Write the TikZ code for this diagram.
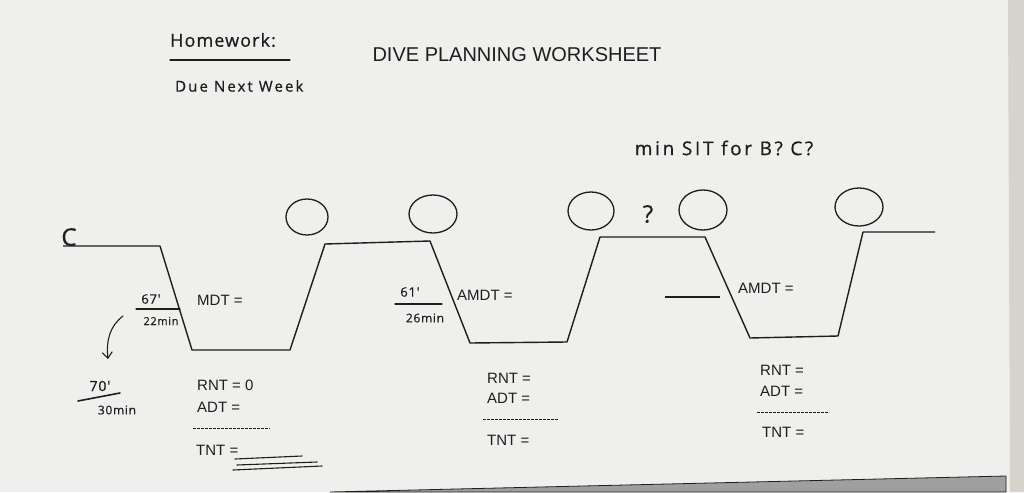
\documentclass[tikz,border=0pt]{standalone}
\usepackage{fontspec}
\setmainfont{Liberation Sans}
\newfontfamily\hand[LetterSpace=6.0,FakeBold=0.6]{Open Sans}
\newfontfamily\handw[LetterSpace=14.0,FakeBold=0.6]{Open Sans}
\usetikzlibrary{arrows.meta}
\definecolor{paper}{HTML}{EFEFEE}
\definecolor{ink}{HTML}{1E1E1E}
\definecolor{edge}{HTML}{D6D3CD}
\tikzset{
  prof/.style={draw=ink, line width=1.4pt, line join=round},
  pen/.style={draw=ink, line width=1.3pt, line cap=round},
  bub/.style={draw=ink, line width=1.3pt},
  lab/.style={anchor=west, inner sep=0pt, text=ink, font=\fontsize{15}{15}\selectfont},
  hw/.style={inner sep=0pt, text=ink},
  dsh/.style={draw=ink, line width=0.9pt, dash pattern=on 2.6pt off 1.4pt},
}
\begin{document}
\begin{tikzpicture}[x=1pt,y=-1pt]
\useasboundingbox (0,0) rectangle (1024,492);
\fill[paper] (0,0) rectangle (1024,492);
\fill[edge] (1008,0) -- (1024,0) -- (1024,492) -- (1010,492) -- cycle;
\fill[gray!75, draw=ink, line width=0.8pt] (330,492) -- (1006,476) -- (1006,492) -- cycle;

% title
\node[hw, font=\fontsize{20}{20}\selectfont] (title) at (517,55) {DIVE PLANNING WORKSHEET};

% handwritten header
\node[hw, anchor=west, font=\hand\fontsize{18}{18}\selectfont] (hwk) at (170,40) {Homework:};
\coordinate (ul1) at (170,60);
\coordinate (ul2) at (290,60);
\draw[pen] (ul1) -- (ul2);
\node[hw, anchor=west, font=\handw\fontsize{15}{15}\selectfont] (due) at (175,86) {Due Next Week};
\node[hw, font=\handw\fontsize{19}{19}\selectfont] (minsit) at (724,148) {min SIT for B? C?};

% profile
\coordinate (p0) at (63,246);
\coordinate (p1) at (160,246);
\coordinate (p2) at (192,350);
\coordinate (p3) at (290,350);
\coordinate (p4) at (325,244);
\coordinate (p5) at (430,241);
\coordinate (p6) at (470,343);
\coordinate (p7) at (567,342);
\coordinate (p8) at (600,237);
\coordinate (p9) at (705,237);
\coordinate (p10) at (750,338);
\coordinate (p11) at (838,336);
\coordinate (p12) at (863,232);
\coordinate (p13) at (935,232);
\draw[prof] (p0) -- (p1) -- (p2) -- (p3) -- (p4) -- (p5) -- (p6) -- (p7) -- (p8) -- (p9) -- (p10) -- (p11) -- (p12) -- (p13);
\coordinate (s1) at (665,297);
\coordinate (s2) at (720,297);
\draw[prof] (s1) -- (s2);

% bubbles
\draw[bub] (307,217) ellipse [x radius=21, y radius=18];
\draw[bub] (433,214) ellipse [x radius=24, y radius=19];
\draw[bub] (591,211) ellipse [x radius=23, y radius=19];
\draw[bub] (703,210) ellipse [x radius=24, y radius=20];
\draw[bub] (859,207) ellipse [x radius=24, y radius=19];
\node[hw, font=\hand\fontsize{24}{24}\selectfont] (q) at (648,214) {?};

% C label
\node[hw, font=\hand\fontsize{24}{24}\selectfont] (cl) at (69,237) {C};

% dive 1 handwriting
\node[hw, font=\hand\fontsize{13}{13}\selectfont] (d1a) at (151,299) {67'};
\coordinate (f1a) at (136,309);
\coordinate (f1b) at (180,309);
\draw[pen, line width=1.1pt] (f1a) -- (f1b);
\node[hw, font=\hand\fontsize{11}{11}\selectfont] (d1b) at (161,321) {22min};
\coordinate (ar1) at (123,316);
\coordinate (ar2) at (108,359);
\draw[pen, line width=1.1pt, -{Straight Barb[length=6pt,width=10pt]}] (ar1) .. controls (110,326) and (106,340) .. (ar2);
\node[hw, font=\hand\fontsize{14}{14}\selectfont] (d0a) at (100,386) {70'};
\coordinate (f0a) at (78,401);
\coordinate (f0b) at (120,393);
\draw[pen, line width=1.6pt] (f0a) -- (f0b);
\node[hw, font=\hand\fontsize{12}{12}\selectfont] (d0b) at (117,410) {30min};

% dive 2 handwriting
\node[hw, font=\hand\fontsize{13}{13}\selectfont] (d2a) at (410,292) {61'};
\coordinate (f2a) at (395,304);
\coordinate (f2b) at (442,304);
\draw[pen, line width=1.1pt] (f2a) -- (f2b);
\node[hw, font=\hand\fontsize{12}{12}\selectfont] (d2b) at (425,318) {26min};

% printed labels
\node[lab] (mdt) at (197,300) {MDT =};
\node[lab] (amdt1) at (457,295) {AMDT =};
\node[lab] (amdt2) at (738,288) {AMDT =};

\node[lab] (rnt1) at (197,385) {RNT = 0};
\node[lab] (adt1) at (197,407) {ADT =};
\coordinate (dl1a) at (193,428);
\coordinate (dl1b) at (270,428);
\draw[dsh] (dl1a) -- (dl1b);
\node[lab] (tnt1) at (196,450) {TNT =};
\coordinate (u1a) at (235,459);
\coordinate (u1b) at (302,456);
\coordinate (u2a) at (237,465);
\coordinate (u2b) at (317,462);
\coordinate (u3a) at (233,470);
\coordinate (u3b) at (322,466);
\draw[pen, line width=1.1pt] (u1a) -- (u1b);
\draw[pen, line width=1.1pt] (u2a) -- (u2b);
\draw[pen, line width=1.1pt] (u3a) -- (u3b);

\node[lab] (rnt2) at (487,378) {RNT =};
\node[lab] (adt2) at (487,398) {ADT =};
\coordinate (dl2a) at (483,419);
\coordinate (dl2b) at (558,419);
\draw[dsh] (dl2a) -- (dl2b);
\node[lab] (tnt2) at (487,440) {TNT =};

\node[lab] (rnt3) at (760,370) {RNT =};
\node[lab] (adt3) at (760,391) {ADT =};
\coordinate (dl3a) at (757,412);
\coordinate (dl3b) at (829,412);
\draw[dsh] (dl3a) -- (dl3b);
\node[lab] (tnt3) at (762,432) {TNT =};
\end{tikzpicture}
\end{document}
